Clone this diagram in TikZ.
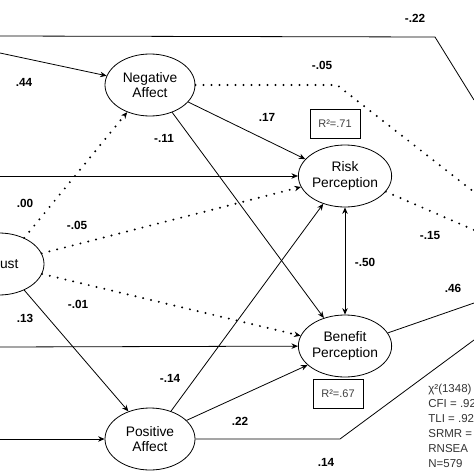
\documentclass[tikz,border=0pt]{standalone}
\usepackage{fontspec}
\setmainfont{Liberation Sans}
\usetikzlibrary{positioning,arrows.meta,shapes.geometric}

\begin{document}
\begin{tikzpicture}[x=1pt,y=-1pt, line width=0.8pt,
  latent/.style={draw, ellipse, minimum width=90pt, minimum height=62pt, inner sep=0pt, align=center, font=\fontsize{13.8}{15.5}\selectfont},
  rbox/.style={draw, minimum width=50pt, minimum height=29pt, inner sep=0pt, text=black!75, font=\fontsize{11}{13}\selectfont},
  coef/.style={inner sep=0pt, font=\bfseries\fontsize{11.8}{13}\selectfont},
  fitline/.style={inner sep=0pt, anchor=base west, text=black!80, font=\fontsize{11.5}{14}\selectfont},
  dots/.style={line width=2.2pt, line cap=round, dash pattern=on 0pt off 8pt},
  >={Stealth[length=6.5pt,width=5.5pt,line width=0.8pt]}]
  \useasboundingbox (0,0) rectangle (474,474);
  \clip (0,0) rectangle (474,474);

  % latent variables
  \node[latent] (trust) at (-1,264) {\hspace*{8pt}Trust};
  \node[latent] (neg) at (150,85) {Negative\\Affect};
  \node[latent] (pos) at (150,439) {Positive\\Affect};
  \node[latent] (risk) at (345,176) {Risk\\Perception};
  \node[latent] (ben) at (345,346) {Benefit\\Perception};
  \node[rbox] (r2risk) at (335,124) {R²=.71};
  \node[rbox] (r2ben) at (338,394) {R²=.67};

  % paths coming in from the left edge
  \coordinate (inN) at (0,53);
  \coordinate (inR) at (0,176);
  \coordinate (inB) at (0,347);
  \coordinate (inP) at (0,439);
  \draw[->] (inN) -- (neg.168);
  \draw[->] (inR) -- (risk);
  \draw[->] (inB) -- (ben);
  \draw[->] (inP) -- (pos);

  % top path
  \coordinate (topL) at (0,36);
  \coordinate (topK) at (435,37);
  \coordinate (topR) at (474,100);
  \draw (topL) -- (topK) -- (topR);

  % trust
  \draw[->, dots] (trust.46) -- (neg.230);
  \draw[->, dots] (trust.14) -- (risk.194);
  \draw[->, dots] (trust.347) -- (ben.167);
  \draw[->] (trust.314) -- (pos.128);

  % affect to perception
  \draw[->] (neg.336) -- (risk.157);
  \draw[->] (neg.309) -- (ben.127);
  \draw[->] (pos.53) -- (risk.232);
  \draw[->] (pos.27) -- (ben.207);
  \draw[<->] (risk.south) -- (ben.north);

  % paths going out at the right edge
  \coordinate (negK) at (337,85);
  \coordinate (negR) at (474,192);
  \coordinate (riskR) at (474,230);
  \coordinate (benR) at (474,303);
  \coordinate (posK) at (340,439);
  \coordinate (posR) at (474,340);
  \draw[dots] (neg.east) -- (negK) -- (negR);
  \draw[dots] (risk.339) -- (riskR);
  \draw (ben.17) -- (benR);
  \draw (pos.east) -- (posK) -- (posR);

  % coefficients
  \node[coef] (cTop) at (415,18) {-.22};
  \node[coef] (cInN) at (24,82) {.44};
  \node[coef] (cNegOut) at (322,65) {-.05};
  \node[coef] (cNegRisk) at (267,117) {.17};
  \node[coef] (cNegBen) at (164,138) {-.11};
  \node[coef] (cTrNeg) at (25,203) {.00};
  \node[coef] (cTrRisk) at (77,225) {-.05};
  \node[coef] (cRiskBen) at (365,262) {-.50};
  \node[coef] (cRiskOut) at (430,235) {-.15};
  \node[coef] (cTrBen) at (78,304) {-.01};
  \node[coef] (cTrPos) at (25,318) {.13};
  \node[coef] (cBenOut) at (453,288) {.46};
  \node[coef] (cPosRisk) at (170,378) {-.14};
  \node[coef] (cPosBen) at (240,421) {.22};
  \node[coef] (cPosOut) at (326,462) {.14};

  % fit indices
  \foreach \t [count=\i] in {χ²(1348) =, CFI = .92, TLI = .92, SRMR =, RNSEA, N=579}
    \node[fitline] (fit\i) at (428,377+15*\i) {\t};
\end{tikzpicture}
\end{document}
